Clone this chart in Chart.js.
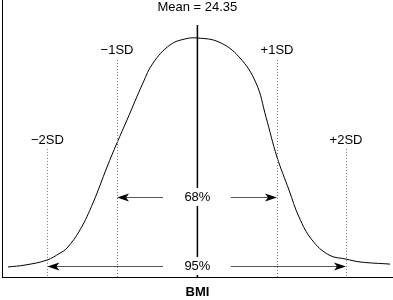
<!DOCTYPE html>
<html>
<head>
<meta charset="utf-8">
<script src="https://cdn.jsdelivr.net/npm/chart.js@4.4.0/dist/chart.umd.min.js"></script>
<style>
  html, body { margin: 0; padding: 0; background: #fff; }
  #wrap { width: 393px; height: 300px; }
</style>
</head>
<body>
<div id="wrap"><canvas id="bmiChart"></canvas></div>
<script>
// curve (BMI, relative frequency)
var curveBmi = [14.88, 15.73, 16.83, 17.48, 17.83, 18.48, 19.13, 19.83, 20.33, 20.83, 21.63, 22.13, 22.98, 23.73, 24.35,
    25.43, 26.43, 27.28, 27.78, 28.33, 28.93, 29.43, 30.08, 30.93, 31.78, 32.48, 33.98];
var curveFreq = [0.042, 0.050, 0.071, 0.100, 0.121, 0.197, 0.310, 0.460, 0.561, 0.657, 0.812, 0.895, 0.971, 0.996, 1.0,
    0.983, 0.921, 0.812, 0.669, 0.502, 0.364, 0.251, 0.155, 0.092, 0.075, 0.063, 0.054];

var meanBmi = 24.35;
var meanTop = 1.054;

var sdLabels = ['\u22122SD', '\u22121SD', '+1SD', '+2SD'];
var sdBmi = [16.85, 20.33, 28.33, 31.78];
var sdTop = [0.536, 0.908, 0.908, 0.536];
var sdLabelY = [0.573, 0.946, 0.946, 0.573];

var rangeLabels = ['68%', '95%'];
var rangeY = [0.335, 0.046];
var rangeLeft = [20.33, 16.85];
var rangeRight = [28.33, 31.78];
var arrowTailLeft = 22.63;
var arrowTailRight = 26.03;

var points = [];
for (var i = 0; i < curveBmi.length; i++) {
    points.push({ x: curveBmi[i], y: curveFreq[i] });
}

function arrow(ctx, x1, x2, y) {
    var dir = x2 > x1 ? 1 : -1;
    ctx.strokeStyle = '#555';
    ctx.lineWidth = 1;
    ctx.beginPath();
    ctx.moveTo(x1, y + 0.5);
    ctx.lineTo(x2 - dir * 8, y + 0.5);
    ctx.stroke();
    ctx.fillStyle = '#000';
    ctx.beginPath();
    ctx.moveTo(x2, y + 0.5);
    ctx.lineTo(x2 - dir * 12, y - 3.5);
    ctx.lineTo(x2 - dir * 9, y + 0.5);
    ctx.lineTo(x2 - dir * 12, y + 4.5);
    ctx.closePath();
    ctx.fill();
}

var notes = {
    id: 'notes',
    afterDatasetsDraw: function (chart) {
        var ctx = chart.ctx;
        var xs = chart.scales.x, ys = chart.scales.y;
        var bottom = chart.chartArea.bottom;
        ctx.save();
        ctx.font = '13px "Liberation Sans", Arial, sans-serif';
        ctx.textAlign = 'center';
        ctx.textBaseline = 'middle';

        // SD lines
        ctx.strokeStyle = '#777';
        ctx.lineWidth = 1;
        ctx.setLineDash([1, 2]);
        for (var i = 0; i < sdBmi.length; i++) {
            var px = Math.round(xs.getPixelForValue(sdBmi[i])) + 0.5;
            ctx.beginPath();
            ctx.moveTo(px, ys.getPixelForValue(sdTop[i]));
            ctx.lineTo(px, bottom);
            ctx.stroke();
        }
        ctx.setLineDash([]);
        ctx.fillStyle = '#000';
        for (var i = 0; i < sdBmi.length; i++) {
            ctx.fillText(sdLabels[i], xs.getPixelForValue(sdBmi[i]), ys.getPixelForValue(sdLabelY[i]));
        }

        // mean line, broken where the percentages sit
        var mx = xs.getPixelForValue(meanBmi);
        var gaps = [];
        for (var j = 0; j < rangeY.length; j++) {
            var cy = ys.getPixelForValue(rangeY[j]);
            gaps.push([cy - 9, cy + 9]);
        }
        gaps.sort(function (a, b) { return a[0] - b[0]; });
        ctx.strokeStyle = '#000';
        ctx.lineWidth = 1.5;
        var y0 = ys.getPixelForValue(meanTop);
        ctx.beginPath();
        for (var j = 0; j < gaps.length; j++) {
            ctx.moveTo(mx, y0);
            ctx.lineTo(mx, Math.min(gaps[j][0], bottom));
            y0 = gaps[j][1];
        }
        if (y0 < bottom) {
            ctx.moveTo(mx, y0);
            ctx.lineTo(mx, bottom);
        }
        ctx.stroke();
        ctx.fillText('Mean = ' + meanBmi, mx, 7);

        // range arrows
        for (var j = 0; j < rangeLabels.length; j++) {
            var ry = Math.round(ys.getPixelForValue(rangeY[j]));
            ctx.fillStyle = '#000';
            ctx.fillText(rangeLabels[j], mx, ry);
            arrow(ctx, xs.getPixelForValue(arrowTailLeft), xs.getPixelForValue(rangeLeft[j]), ry);
            arrow(ctx, xs.getPixelForValue(arrowTailRight), xs.getPixelForValue(rangeRight[j]), ry);
        }
        ctx.restore();
    }
};

Chart.defaults.font.family = '"Liberation Sans", Arial, sans-serif';
Chart.defaults.color = '#000';

var chart = new Chart(document.getElementById('bmiChart'), {
    type: 'line',
    data: {
        datasets: [{
            data: points,
            borderColor: '#000',
            borderWidth: 1,
            pointRadius: 0,
            fill: false,
            tension: 0.4
        }]
    },
    options: {
        responsive: true,
        maintainAspectRatio: false,
        animation: false,
        layout: { padding: { left: 2, right: 0, top: 0, bottom: 0 } },
        plugins: { legend: { display: false }, tooltip: { enabled: false } },
        scales: {
            x: {
                type: 'linear',
                min: 14.58,
                max: 34.13,
                grid: { display: false },
                ticks: { display: false },
                border: { display: true, color: '#000', width: 1 },
                title: {
                    display: true,
                    text: 'BMI',
                    font: { size: 13, weight: 'bold', lineHeight: 1 },
                    padding: { top: 0, bottom: 1 }
                },
                afterFit: function (scale) { scale.height = 23; }
            },
            y: {
                min: 0,
                max: 1.159,
                grid: { display: false },
                ticks: { display: false },
                border: { display: true, color: '#000', width: 1 },
                afterFit: function (scale) { scale.width = 0; }
            }
        }
    },
    plugins: [notes]
});
</script>
</body>
</html>
